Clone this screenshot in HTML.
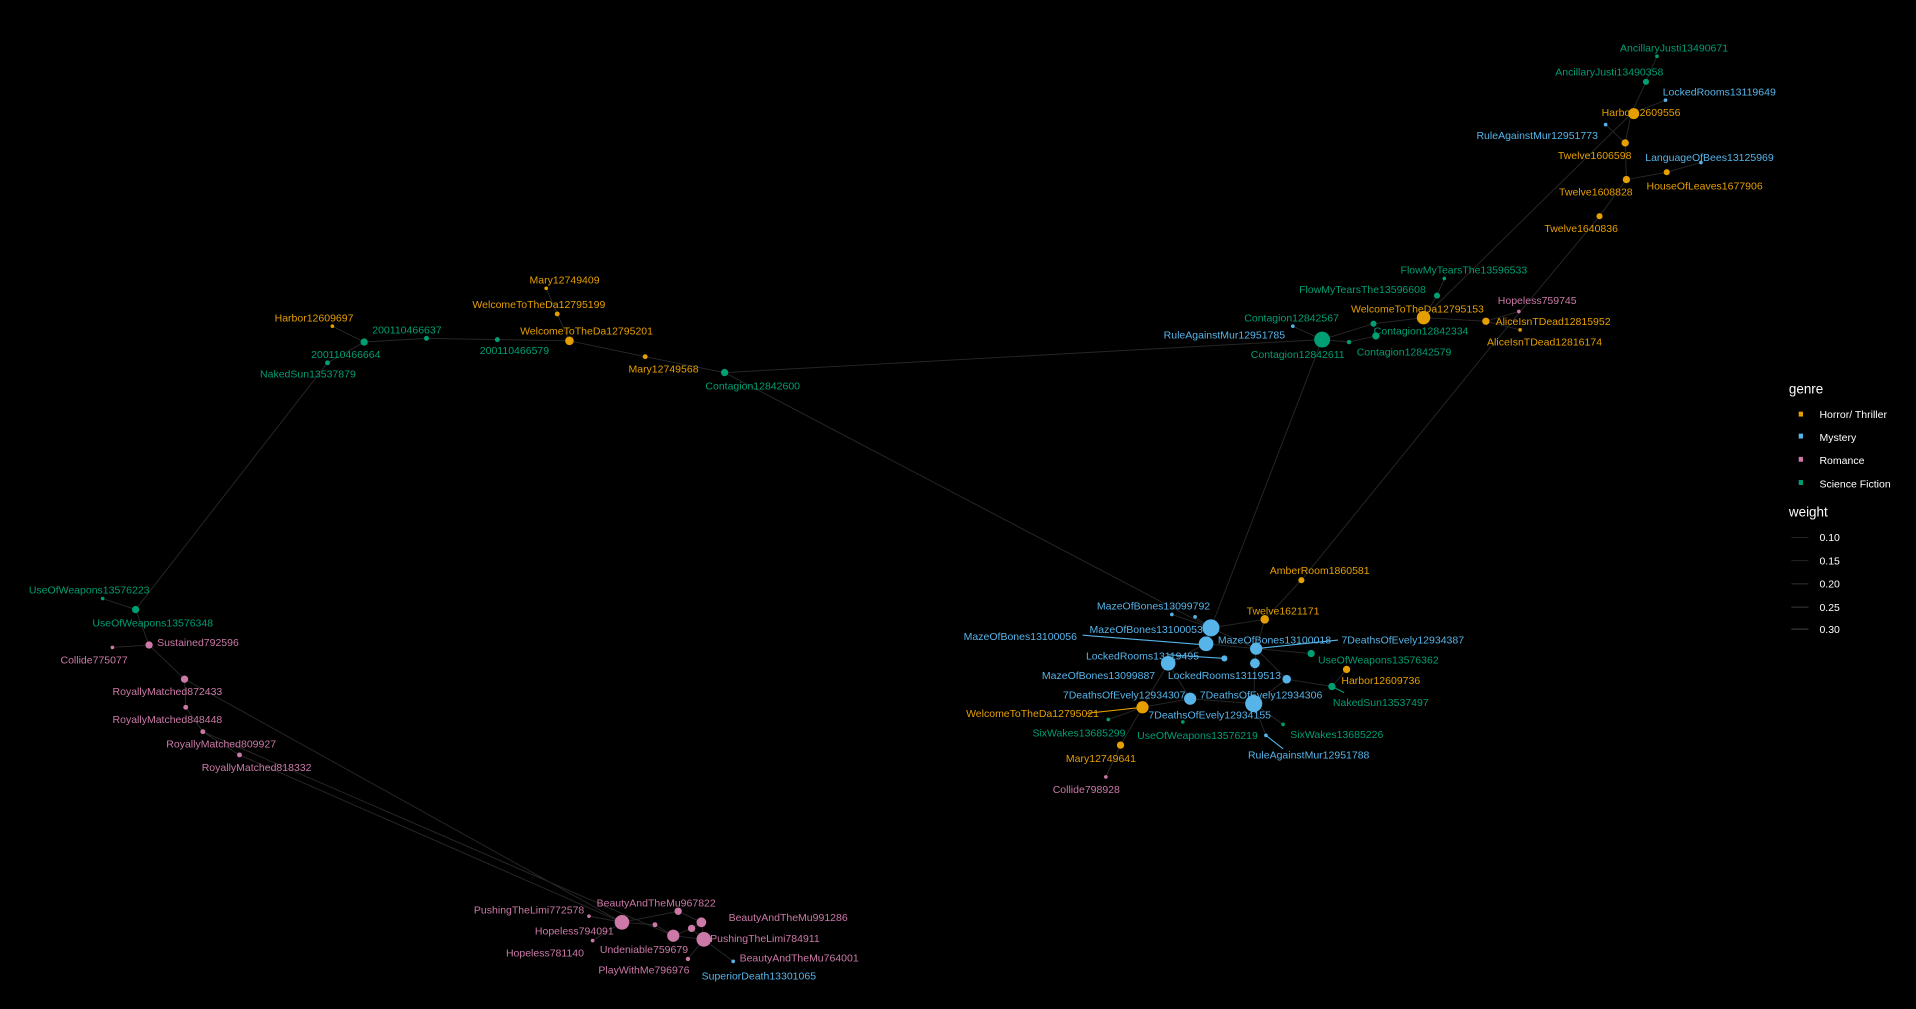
<!DOCTYPE html>
<html><head><meta charset="utf-8"><style>
html,body{margin:0;padding:0;background:#000;overflow:hidden}
svg{display:block}
text{font-family:"Liberation Sans",sans-serif;font-size:8.6px}
.o{fill:#E69F00}.b{fill:#56B4E9}.p{fill:#CC79A7}.g{fill:#009E73}
.e{stroke:#262626;stroke-width:0.8;fill:none}
</style></head><body>
<svg width="1916" height="1009" viewBox="0 0 1568 826" preserveAspectRatio="none">
<rect width="1568" height="826" fill="#000"/>
<g class="e">
<path d="M1356,46 L1347,67 L1335,93 L1330,117 L1331,147 L1309,177 L1211,295"/>
<path d="M1363,82 L1335,93 M1314,102 L1330,117 M1331,147 L1364,141 L1392,133"/>
<path d="M1335,93 L1165,260 M1182,228 L1176,242 L1165,260 L1216,263 L1243,255 M1216,263 L1244,270"/>
<path d="M1165,260 L1124,265 L1082,278 L1058,267 M1126,275 L1104,280 L1082,278 M1124,265 L1126,275"/>
<path d="M1082,278 L593,305 L528,292 L466,279 L456,257 L447,236 M466,279 L407,278 L349,277 L298,280 L272,267 M298,280 L268,297"/>
<path d="M268,297 L111,499 L84,490 M111,499 L122,528 L92,530 M122,528 L151,556 L152,579 L166,599 L196,618"/>
<path d="M151,556 L509,755 M196,618 L509,755 M166,599 L551,766"/>
<path d="M593,305 L991,514 M1082,278 L991,514 M1211,295 L1065,475 L1035,507"/>
<path d="M991,514 L987,527 L956,543 L935,579 L917,610 L905,636 M935,579 L907,589"/>
<path d="M991,514 L1028,531 L1073,535 M1035,507 L991,514 M959,503 L991,514 M978,505 L991,514 M1028,531 L1027,543 L1026,576 L974,572 L935,579"/>
<path d="M1028,531 L1053,556 L1090,562 L1102,548 M1053,556 L1026,576 L1036,602 M1026,576 L1050,593 M956,543 L974,572 M1035,507 L1028,531 M987,527 L1028,531"/>
<path d="M509,755 L536,757 L551,766 L576,769 L574,755 L555,746 L509,755 M566,760 L576,769 L563,785 M482,750 L509,755 M485,770 L509,755 M576,769 L600,787 M566,760 L574,755 M551,766 L566,760"/>
</g>
<g stroke="#56B4E9" stroke-width="0.9"><path d="M886,520 L987,528 M1028,531 L1095,524 M1002,539 L956,536 M1036,602 L1050,613"/></g>
<path d="M935,579 L889,584" stroke="#E69F00" stroke-width="0.9"/>
<path d="M1090,562 L1100,567" stroke="#009E73" stroke-width="0.9"/>
<g>
<circle class="g" cx="1356" cy="46" r="1.5"/><circle class="g" cx="1347" cy="67" r="2.5"/>
<circle class="b" cx="1363" cy="82" r="1.5"/><circle class="o" cx="1337" cy="93" r="4.5"/>
<circle class="b" cx="1314" cy="102" r="1.5"/><circle class="o" cx="1330" cy="117" r="3"/>
<circle class="b" cx="1392" cy="133" r="1.5"/><circle class="o" cx="1331" cy="147" r="3"/>
<circle class="o" cx="1364" cy="141" r="2.5"/><circle class="o" cx="1309" cy="177" r="2.5"/>
<circle class="g" cx="1182" cy="228" r="1.5"/><circle class="g" cx="1176" cy="242" r="2.5"/>
<circle class="o" cx="1165" cy="260" r="5.5"/><circle class="p" cx="1243" cy="255" r="1.5"/>
<circle class="o" cx="1216" cy="263" r="3"/><circle class="o" cx="1244" cy="270" r="1.5"/>
<circle class="b" cx="1058" cy="267" r="1.5"/><circle class="g" cx="1082" cy="278" r="6.5"/>
<circle class="g" cx="1124" cy="265" r="2.5"/><circle class="g" cx="1126" cy="275" r="3"/>
<circle class="g" cx="1104" cy="280" r="1.8"/>
<circle class="o" cx="447" cy="236" r="1.5"/><circle class="o" cx="456" cy="257" r="2"/>
<circle class="o" cx="466" cy="279" r="3.5"/><circle class="o" cx="528" cy="292" r="2"/>
<circle class="g" cx="593" cy="305" r="3"/><circle class="o" cx="272" cy="267" r="1.5"/>
<circle class="g" cx="349" cy="277" r="2"/><circle class="g" cx="298" cy="280" r="3"/>
<circle class="g" cx="407" cy="278" r="2"/><circle class="g" cx="268" cy="297" r="2"/>
<circle class="g" cx="84" cy="490" r="1.5"/><circle class="g" cx="111" cy="499" r="3"/>
<circle class="p" cx="122" cy="528" r="3"/><circle class="p" cx="92" cy="530" r="1.5"/>
<circle class="p" cx="151" cy="556" r="3"/><circle class="p" cx="152" cy="579" r="2"/>
<circle class="p" cx="166" cy="599" r="2"/><circle class="p" cx="196" cy="618" r="2"/>
<circle class="p" cx="482" cy="750" r="1.5"/><circle class="p" cx="555" cy="746" r="3"/>
<circle class="p" cx="509" cy="755" r="6"/><circle class="p" cx="574" cy="755" r="4"/>
<circle class="p" cx="536" cy="757" r="2"/><circle class="p" cx="576" cy="769" r="6"/>
<circle class="p" cx="551" cy="766" r="5"/><circle class="p" cx="566" cy="760" r="3"/>
<circle class="p" cx="485" cy="770" r="1.5"/><circle class="p" cx="563" cy="785" r="1.8"/>
<circle class="b" cx="600" cy="787" r="1.5"/>
<circle class="o" cx="1065" cy="475" r="2.5"/><circle class="o" cx="1035" cy="507" r="3.5"/>
<circle class="b" cx="959" cy="503" r="1.5"/><circle class="b" cx="978" cy="505" r="1.5"/>
<circle class="b" cx="991" cy="514" r="7"/><circle class="b" cx="987" cy="527" r="6"/>
<circle class="b" cx="1028" cy="531" r="5"/><circle class="b" cx="1002" cy="539" r="2.5"/>
<circle class="g" cx="1073" cy="535" r="3"/><circle class="b" cx="956" cy="543" r="6"/>
<circle class="b" cx="1027" cy="543" r="4"/><circle class="o" cx="1102" cy="548" r="3"/>
<circle class="b" cx="1053" cy="556" r="3.5"/><circle class="g" cx="1090" cy="562" r="3"/>
<circle class="b" cx="974" cy="572" r="5"/><circle class="b" cx="1026" cy="576" r="7"/>
<circle class="o" cx="935" cy="579" r="5"/><circle class="g" cx="907" cy="589" r="1.5"/>
<circle class="g" cx="968" cy="591" r="1.5"/><circle class="g" cx="1050" cy="593" r="1.5"/>
<circle class="b" cx="1036" cy="602" r="1.5"/><circle class="o" cx="917" cy="610" r="3"/>
<circle class="p" cx="905" cy="636" r="1.5"/>
</g>
<g text-anchor="middle">
<text class="g" x="1370" y="42">AncillaryJusti13490671</text>
<text class="g" x="1317" y="62">AncillaryJusti13490358</text>
<text class="b" x="1407" y="78">LockedRooms13119649</text>
<text class="o" x="1343" y="95">Harbor12609556</text>
<text class="b" x="1258" y="114">RuleAgainstMur12951773</text>
<text class="o" x="1305" y="130">Twelve1606598</text>
<text class="b" x="1399" y="132">LanguageOfBees13125969</text>
<text class="o" x="1306" y="160">Twelve1608828</text>
<text class="o" x="1395" y="155">HouseOfLeaves1677906</text>
<text class="o" x="1294" y="190">Twelve1640836</text>
<text class="g" x="1198" y="224">FlowMyTearsThe13596533</text>
<text class="g" x="1115" y="240">FlowMyTearsThe13596608</text>
<text class="o" x="1160" y="256">WelcomeToTheDa12795153</text>
<text class="p" x="1258" y="249">Hopeless759745</text>
<text class="o" x="1271" y="266">AliceIsnTDead12815952</text>
<text class="o" x="1264" y="283">AliceIsnTDead12816174</text>
<text class="g" x="1057" y="263">Contagion12842567</text>
<text class="b" x="1002" y="277">RuleAgainstMur12951785</text>
<text class="g" x="1062" y="293">Contagion12842611</text>
<text class="g" x="1163" y="274">Contagion12842334</text>
<text class="g" x="1149" y="291">Contagion12842579</text>
<text class="o" x="462" y="232">Mary12749409</text>
<text class="o" x="441" y="252">WelcomeToTheDa12795199</text>
<text class="o" x="480" y="274">WelcomeToTheDa12795201</text>
<text class="o" x="543" y="305">Mary12749568</text>
<text class="g" x="616" y="319">Contagion12842600</text>
<text class="o" x="257" y="263">Harbor12609697</text>
<text class="g" x="333" y="273">200110466637</text>
<text class="g" x="283" y="293">200110466664</text>
<text class="g" x="421" y="290">200110466579</text>
<text class="g" x="252" y="309">NakedSun13537879</text>
<text class="g" x="73" y="486">UseOfWeapons13576223</text>
<text class="g" x="125" y="513">UseOfWeapons13576348</text>
<text class="p" x="162" y="529">Sustained792596</text>
<text class="p" x="77" y="543">Collide775077</text>
<text class="p" x="137" y="569">RoyallyMatched872433</text>
<text class="p" x="137" y="592">RoyallyMatched848448</text>
<text class="p" x="181" y="612">RoyallyMatched809927</text>
<text class="p" x="210" y="631">RoyallyMatched818332</text>
<text class="p" x="433" y="748">PushingTheLimi772578</text>
<text class="p" x="537" y="742">BeautyAndTheMu967822</text>
<text class="p" x="645" y="754">BeautyAndTheMu991286</text>
<text class="p" x="470" y="765">Hopeless794091</text>
<text class="p" x="626" y="771">PushingTheLimi784911</text>
<text class="p" x="527" y="780">Undeniable759679</text>
<text class="p" x="446" y="783">Hopeless781140</text>
<text class="p" x="654" y="787">BeautyAndTheMu764001</text>
<text class="p" x="527" y="797">PlayWithMe796976</text>
<text class="b" x="621" y="802">SuperiorDeath13301065</text>
<text class="o" x="1080" y="470">AmberRoom1860581</text>
<text class="o" x="1050" y="503">Twelve1621171</text>
<text class="b" x="944" y="499">MazeOfBones13099792</text>
<text class="b" x="938" y="518">MazeOfBones13100053</text>
<text class="b" x="835" y="524">MazeOfBones13100056</text>
<text class="b" x="1043" y="527">MazeOfBones13100018</text>
<text class="b" x="1148" y="527">7DeathsOfEvely12934387</text>
<text class="b" x="935" y="540">LockedRooms13119495</text>
<text class="g" x="1128" y="543">UseOfWeapons13576362</text>
<text class="o" x="1130" y="560">Harbor12609736</text>
<text class="b" x="899" y="556">MazeOfBones13099887</text>
<text class="b" x="1002" y="556">LockedRooms13119513</text>
<text class="g" x="1130" y="578">NakedSun13537497</text>
<text class="b" x="920" y="572">7DeathsOfEvely12934307</text>
<text class="b" x="1032" y="572">7DeathsOfEvely12934306</text>
<text class="o" x="845" y="587">WelcomeToTheDa12795021</text>
<text class="b" x="990" y="588">7DeathsOfEvely12934155</text>
<text class="g" x="883" y="603">SixWakes13685299</text>
<text class="g" x="980" y="605">UseOfWeapons13576219</text>
<text class="g" x="1094" y="604">SixWakes13685226</text>
<text class="b" x="1071" y="621">RuleAgainstMur12951788</text>
<text class="o" x="901" y="624">Mary12749641</text>
<text class="p" x="889" y="649">Collide798928</text>
</g>
<g fill="#fff">
<text x="1464" y="322" style="font-size:11px">genre</text>
<rect class="o" x="1472" y="337" width="3.5" height="4"/>
<rect class="b" x="1472" y="355" width="3.5" height="4"/>
<rect class="p" x="1472" y="374" width="3.5" height="4"/>
<rect class="g" x="1472" y="393" width="3.5" height="4"/>
<text x="1489" y="342">Horror/ Thriller</text>
<text x="1489" y="361">Mystery</text>
<text x="1489" y="380">Romance</text>
<text x="1489" y="399">Science Fiction</text>
<text x="1464" y="423" style="font-size:11px">weight</text>
<g stroke-width="0.8"><path d="M1466,440h14" stroke="#222"/><path d="M1466,459h14" stroke="#2a2a2a"/><path d="M1466,478h14" stroke="#333"/><path d="M1466,497h14" stroke="#3a3a3a"/><path d="M1466,515h14" stroke="#444"/></g>
<text x="1489" y="443">0.10</text>
<text x="1489" y="462">0.15</text>
<text x="1489" y="481">0.20</text>
<text x="1489" y="500">0.25</text>
<text x="1489" y="518">0.30</text>
</g>
</svg>
</body></html>
